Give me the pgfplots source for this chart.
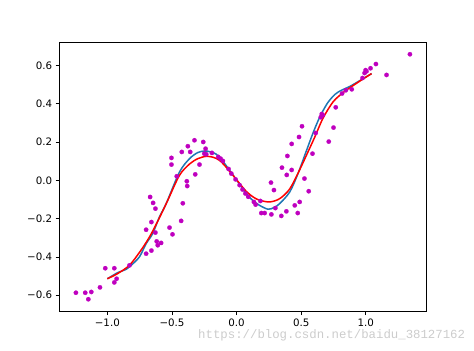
\documentclass[border=0pt]{standalone}
\usepackage{fontspec}
\setmainfont{DejaVu Sans}
\newfontfamily\wmfont{Liberation Mono}
\usepackage{pgfplots}
\pgfplotsset{compat=1.18}
\definecolor{mcol}{rgb}{0.75,0,0.75}
\definecolor{tabblue}{HTML}{1F77B4}
\begin{document}
\begin{tikzpicture}[x=1bp,y=1bp]
\path[use as bounding box] (0,0) rectangle (474,350);
\begin{axis}[
  at={(59.25bp,38.5bp)}, anchor=south west,
  width=367.35bp, height=269.5bp, scale only axis,
  xmin=-1.372, xmax=1.470, ymin=-0.685, ymax=0.722,
  axis line style={line width=0.8bp, black},
  tick align=outside, tick pos=left,
  major tick length=3.6bp,
  every tick/.style={line width=0.8bp, black},
  xtick={-1,-0.5,0,0.5,1},
  xticklabels={−1.0,−0.5,0.0,0.5,1.0},
  ytick={-0.6,-0.4,-0.2,0,0.2,0.4,0.6},
  yticklabels={−0.6,−0.4,−0.2,0.0,0.2,0.4,0.6},
  ticklabel style={font=\fontsize{10.3}{12}\selectfont, text=black},
  clip=false,
]
\addplot[mcol, only marks, mark=*, mark size=2.2bp, mark options={fill=mcol, draw=mcol, line width=0.2bp}] coordinates {
(-1.243,-0.587) (-1.171,-0.587) (-1.147,-0.621) (-1.124,-0.583) (-1.057,-0.559)
(-1.016,-0.459) (-0.946,-0.459) (-0.928,-0.514) (-0.946,-0.533) (-0.829,-0.444)
(-0.700,-0.383) (-0.659,-0.367) (-0.700,-0.258) (-0.659,-0.218) (-0.628,-0.273)
(-0.618,-0.319) (-0.610,-0.339) (-0.584,-0.327) (-0.669,-0.087) (-0.646,-0.118)
(-0.628,-0.148) (-0.519,-0.247) (-0.496,-0.282) (-0.429,-0.212) (-0.416,-0.120)
(-0.463,0.021) (-0.385,-0.005) (-0.382,-0.030) (-0.320,0.031) (-0.504,0.117)
(-0.504,0.082) (-0.424,0.148) (-0.377,0.178) (-0.359,0.148) (-0.326,0.209)
(-0.287,0.082) (-0.258,0.200) (-0.240,0.165) (-0.250,0.139) (-0.235,0.136)
(-0.191,0.143) (-0.142,0.122) (-0.124,0.113) (-0.106,0.101) (-0.062,0.059)
(-0.041,0.035) (-0.008,0.005) (0.023,-0.025) (0.046,-0.048) (0.068,-0.069)
(0.090,-0.086) (0.134,-0.113) (0.147,-0.127) (0.184,-0.108) (0.191,-0.171)
(0.217,-0.171) (0.269,-0.178) (0.266,-0.012) (0.289,-0.051) (0.300,-0.145)
(0.346,-0.186) (0.385,-0.162) (0.351,0.066) (0.388,0.028) (0.393,0.127)
(0.426,0.054) (0.426,0.190) (0.483,0.226) (0.506,0.282) (0.450,-0.131)
(0.473,-0.171) (0.488,-0.113) (0.525,0.009) (0.558,-0.057) (0.587,0.139)
(0.612,0.247) (0.659,0.346) (0.651,0.329) (0.667,0.340) (0.713,0.202)
(0.750,0.275) (0.767,0.381) (0.816,0.453) (0.845,0.470) (0.891,0.475)
(0.974,0.534) (0.990,0.560) (1.005,0.569) (0.998,0.575) (1.036,0.585)
(1.078,0.607) (1.160,0.550) (1.341,0.658)
};
\addplot[tabblue, line width=1.5bp, smooth, mark=none] coordinates {
(-1.0,-0.514) (-0.92,-0.482) (-0.88,-0.472) (-0.855,-0.465) (-0.816,-0.444)
(-0.752,-0.400) (-0.700,-0.331) (-0.649,-0.278) (-0.597,-0.191) (-0.545,-0.122)
(-0.442,0.043) (-0.364,0.113) (-0.30,0.145) (-0.245,0.153) (-0.20,0.148)
(-0.157,0.136) (-0.105,0.098) (-0.054,0.052) (0.01,-0.008) (0.075,-0.070)
(0.130,-0.108) (0.178,-0.131) (0.243,-0.151) (0.290,-0.142) (0.333,-0.122)
(0.411,-0.061) (0.475,0.035) (0.535,0.145) (0.592,0.248) (0.640,0.325)
(0.700,0.400) (0.760,0.448) (0.811,0.470) (0.876,0.490) (0.96,0.523) (1.044,0.557)
};
\addplot[red, line width=1.5bp, smooth, mark=none] coordinates {
(-1.0,-0.514) (-0.92,-0.487) (-0.83,-0.444) (-0.75,-0.375) (-0.674,-0.296)
(-0.60,-0.200) (-0.532,-0.104) (-0.442,0.026) (-0.364,0.085) (-0.30,0.113)
(-0.235,0.125) (-0.18,0.120) (-0.132,0.104) (-0.08,0.068) (-0.028,0.026)
(0.025,-0.018) (0.075,-0.058) (0.13,-0.088) (0.178,-0.104) (0.256,-0.113)
(0.333,-0.096) (0.411,-0.045) (0.488,0.055) (0.55,0.145) (0.605,0.226)
(0.669,0.325) (0.747,0.410) (0.824,0.458) (0.876,0.483) (0.96,0.521)
(1.044,0.557)
};
\end{axis}
\node[anchor=west, text=gray!40, font=\wmfont\fontsize{12.4}{14}\selectfont, inner sep=0pt] at (198,15) {https://blog.csdn.net/baidu\_38127162};
\end{tikzpicture}
\end{document}
